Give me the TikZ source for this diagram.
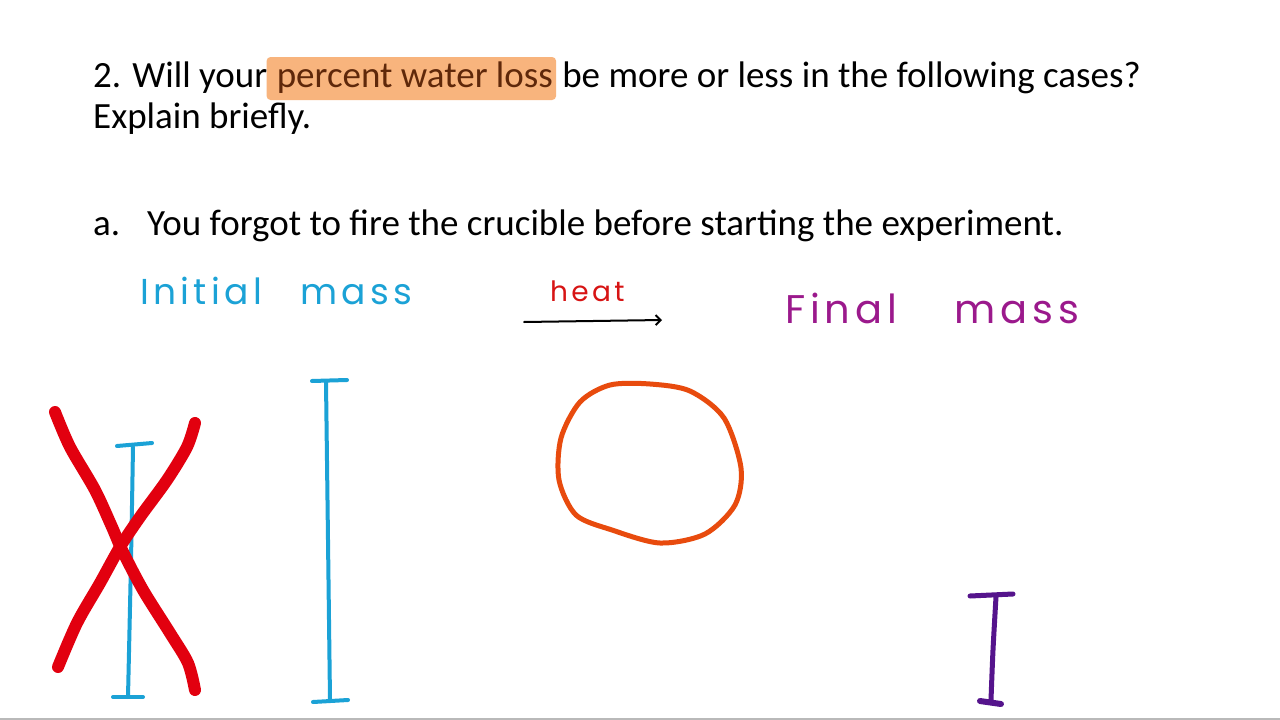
\documentclass[tikz,border=0pt]{standalone}
\usepackage{fontspec}
\setmainfont{Carlito}
\newfontfamily\handfont{Poppins}[LetterSpace=12]
\usetikzlibrary{arrows.meta,positioning}
\pgfdeclarelayer{background}
\pgfsetlayers{background,main}
\definecolor{inkblue}{RGB}{27,162,214}
\definecolor{crossred}{RGB}{226,0,15}
\definecolor{heatred}{RGB}{215,20,20}
\definecolor{ringorange}{RGB}{232,75,14}
\definecolor{finalpurple}{RGB}{155,25,140}
\definecolor{barpurple}{RGB}{85,20,140}
\definecolor{hilite}{RGB}{248,180,125}
\definecolor{hitext}{RGB}{95,40,10}

\begin{document}
\begin{tikzpicture}[x=1pt, y=-1pt, line cap=round, line join=round]
    \tikzstyle{text_style} = [anchor=base west, inner sep=0pt, font=\fontsize{37}{44}\selectfont]
    \tikzstyle{hand_style} = [anchor=base west, inner sep=0pt, font=\handfont\fontsize{36}{40}\selectfont]
    \tikzstyle{bar_style} = [draw=inkblue, line width=4pt]
    \tikzstyle{edge_style} = [draw=black, line width=2pt]
    \useasboundingbox (0,0) rectangle (1280,720);
    \begin{pgfonlayer}{background}
        \fill[white] (0,0) rectangle (1280,720);
    \end{pgfonlayer}

    % question text
    \node[text_style] (q1) at (93,87) {2. Will your};
    \node[text_style, text=hitext] (hl) at ([xshift=9pt]q1.base east) {percent water loss};
    \node[text_style] (q2) at ([xshift=9pt]hl.base east) {be more or less in the following cases?};
    \node[text_style] (q3) at (93,128) {Explain briefly.};
    \node[text_style] (qa) at (93,235) {a.};
    \node[text_style] (qa_text) at (147,235) {You forgot to fire the crucible before starting the experiment.};
    \begin{pgfonlayer}{background}
        \fill[hilite, rounded corners=4pt] ([xshift=-10pt,yshift=30pt]hl.base west) rectangle ([xshift=3pt,yshift=-13pt]hl.base east);
    \end{pgfonlayer}

    % handwritten labels
    \node[hand_style, text=inkblue] (lab_init) at (140,304) {Initial\hspace{38pt}mass};
    \node[hand_style, text=heatred, font=\handfont\fontsize{28}{30}\selectfont] (lab_heat) at (550,301) {heat};
    \node[hand_style, text=finalpurple, font=\handfont\fontsize{40}{44}\selectfont] (lab_final) at (785,323) {Final\hspace{58pt}mass};

    \coordinate (a1) at (524,322);
    \coordinate (a2) at (662,320);
    \draw[edge_style, -{Straight Barb[length=5pt,width=10pt]}] (a1) -- (a2);

    % initial bars
    \draw[bar_style] (117,446) -- (152,443);
    \draw[bar_style] plot[smooth] coordinates {(133,447) (131,560) (128,697)};
    \draw[bar_style] (113,697) -- (143,697);
    \draw[bar_style] (312,381) -- (347,380);
    \draw[bar_style] plot[smooth] coordinates {(326,382) (328,540) (330,700)};
    \draw[bar_style] (313,702) -- (348,700);

    % cross
    \draw[crossred, line width=12pt] plot[smooth] coordinates {(55,412) (70,447) (95,490) (112,527) (122,550) (143,590) (170,633) (188,663) (195,690)};
    \draw[crossred, line width=12pt] plot[smooth] coordinates {(195,423) (187,447) (167,480) (140,517) (120,547) (100,583) (77,623) (58,667)};

    % ring
    \draw[ringorange, line width=5pt] plot[smooth cycle] coordinates {(610,385) (650,384) (690,391) (724,418) (741,468) (735,505) (705,534) (660,543) (612,530) (576,515) (559,480) (561,438) (580,402)};

    % final bar
    \draw[barpurple, line width=5pt] (970,596) -- (1013,594);
    \draw[barpurple, line width=5pt] plot[smooth] coordinates {(996,597) (993,650) (991,700)};
    \draw[barpurple, line width=6pt] (980,701) -- (1001,704);

    \draw[gray!55, line width=2pt] (0,719) -- (1280,719);
\end{tikzpicture}
\end{document}
